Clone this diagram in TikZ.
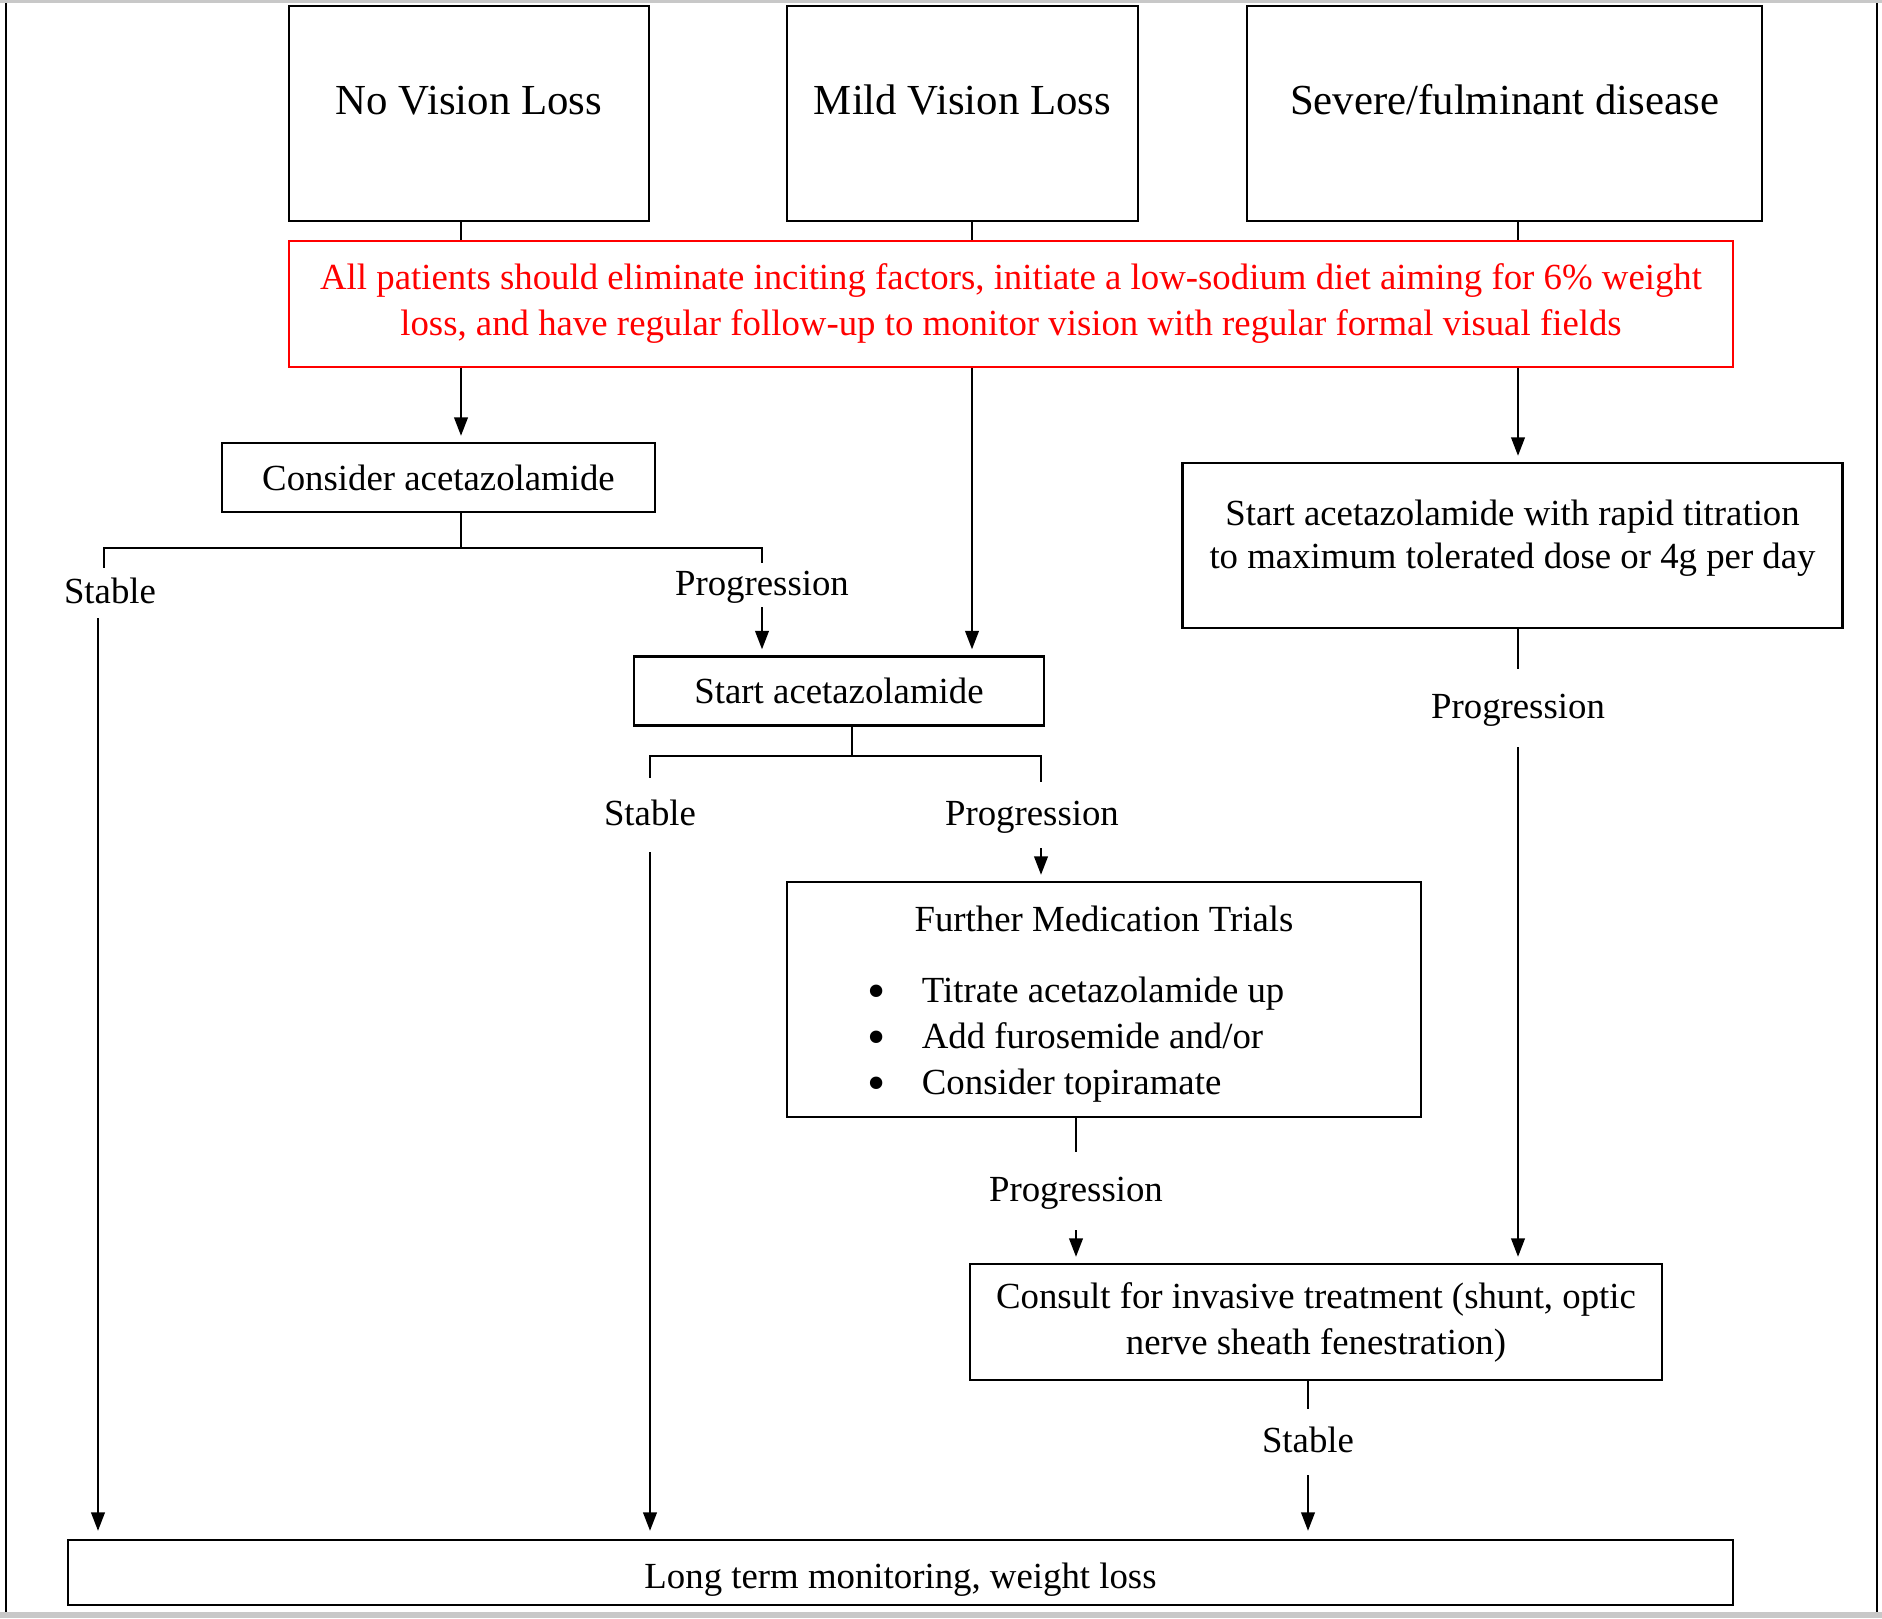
\documentclass[tikz,border=0pt]{standalone}
\usepackage{fontspec}
\setmainfont{Liberation Serif}
\usepackage{tikz}
\usetikzlibrary{arrows.meta, positioning}
\definecolor{alertRed}{RGB}{255, 0, 0}
\definecolor{frameGray}{RGB}{200, 200, 200}
\newcommand{\trialdot}{\raisebox{-1.4pt}{\fontsize{13}{11.5}\selectfont\textbullet}}

\begin{document}
\begin{tikzpicture}[x=0.25pt, y=-0.25pt,
  every node/.style={font=\fontsize{9.2}{11.5}\selectfont},
  casebox/.style={rectangle, draw, line width=0.6pt, inner sep=0pt,
                  minimum width=#1, text height=27pt, text depth=26.75pt,
                  font=\fontsize{10.7}{13}\selectfont},
  stepbox/.style={rectangle, draw, line width=0.6pt, align=center,
                  inner sep=2pt},
  redbox/.style={stepbox, draw=alertRed, text=alertRed},
  lbl/.style={inner xsep=2pt, inner ysep=1pt, text height=7.5pt,
              text depth=2.5pt},
  arr/.style={-{Triangle[length=4.6pt, width=3.4pt]}, shorten >=1.5pt},
  every path/.style={line width=0.5pt},
]
  % screenshot frame
  \useasboundingbox (0,0) rectangle (1882,1618);
  \draw[frameGray, line width=0.75pt] (0,1.5) -- (1882,1.5);
  \draw (6,3) -- (6,1612);
  \draw (1877,3) -- (1877,1612);
  \fill[frameGray] (0,1612) rectangle (1882,1618);

  % columns
  \coordinate (colA) at (461,0);
  \coordinate (colB) at (972,0);
  \coordinate (colC) at (1518,0);
  \coordinate (colD) at (852,0);
  \coordinate (colE) at (1076,0);
  \coordinate (colF) at (1308,0);

  % presenting cases
  \node[casebox=90pt] (novis) at (469,113.5) {No Vision Loss};
  \node[casebox=87.75pt] (mild) at (962.5,113.5) {Mild Vision Loss};
  \node[casebox=128.75pt] (severe) at (1504.5,113.5) {Severe/fulminant disease};

  \node[redbox, minimum width=361pt, minimum height=31.5pt] (red) at (1011,304)
    {All patients should eliminate inciting factors, initiate a low-sodium diet aiming for 6\% weight\\
     loss, and have regular follow-up to monitor vision with regular formal visual fields};

  % treatment steps
  \node[stepbox, minimum width=108.25pt, minimum height=17.25pt] (consider) at (438.5,477.5)
    {Consider acetazolamide};
  \node[stepbox, minimum width=102.5pt, minimum height=17.25pt] (start) at (839,691)
    {Start acetazolamide};
  \node[stepbox, minimum width=165pt, minimum height=41.25pt] (sevact) at (1512.5,545.5)
    {Start acetazolamide with rapid titration\\[-0.7pt]
     to maximum tolerated dose or 4g per day\rule[-5.5pt]{0pt}{0pt}};
  \node[stepbox, minimum width=158.5pt, minimum height=58.75pt] (further) at (1104,999.5)
    {\rule{0pt}{10.3pt}Further Medication Trials\\[6.25pt]
     \begin{tabular}[t]{@{}l@{\hspace{9pt}}l@{\hspace{14pt}}}
       \trialdot & Titrate acetazolamide up\\
       \trialdot & Add furosemide and/or\\
       \trialdot & Consider topiramate
     \end{tabular}};
  \node[stepbox, minimum width=173pt, minimum height=29pt] (consult) at (1316,1322)
    {Consult for invasive treatment (shunt, optic\\nerve sheath fenestration)};
  \node[stepbox, minimum width=416.25pt, inner sep=0pt, text height=12pt,
        text depth=4.25pt] (longterm) at (900.5,1572.5)
    {Long term monitoring, weight loss};

  % outcome labels
  \node[lbl] (stable1) at (110,593) {Stable};
  \node[lbl, inner ysep=0.3pt] (prog1) at (762,585) {Progression};
  \node[lbl, inner ysep=4pt] (stable2) at (650,815) {Stable};
  \node[lbl, inner ysep=3pt] (prog2) at (1032,815) {Progression};
  \node[lbl, inner ysep=4.5pt] (prog3) at (1518,708) {Progression};
  \node[lbl, inner ysep=4.5pt] (prog4) at (1076,1191) {Progression};
  \node[lbl, inner ysep=3pt] (stable3) at (1308,1442) {Stable};

  % into the common box
  \draw (novis.south -| colA) -- (red.north -| colA);
  \draw (mild.south -| colB) -- (red.north -| colB);
  \draw (severe.south -| colC) -- (red.north -| colC);

  \draw[arr] (red.south -| colA) -- (consider.north -| colA);
  \draw[arr] (red.south -| colB) -- (start.north -| colB);
  \draw[arr] (red.south -| colC) -- (sevact.north -| colC);

  % no vision loss
  \draw (consider.south -| colA) -- ++(0,35) coordinate (fork1)
    -| ([xshift=-1.5pt]stable1.north);
  \draw (fork1) -| (prog1.north);
  \draw[arr, shorten >=2pt] ([xshift=-3pt]stable1.south)
    -- ([xshift=-3pt]stable1.south |- longterm.north);
  \draw[arr] (prog1.south) -- (prog1.south |- start.north);

  % after starting acetazolamide
  \draw (start.south -| colD) -- ++(0,29) coordinate (fork2)
    -| ([xshift=2.25pt]prog2.north);
  \draw (fork2) -| (stable2.north);
  \draw[arr, shorten >=2pt] (stable2.south) -- (stable2.south |- longterm.north);
  \draw[arr] ([xshift=2.25pt]prog2.south) -- ([xshift=2.25pt]prog2.south |- further.north);

  \draw (further.south -| colE) -- (prog4.north);
  \draw[arr] (prog4.south) -- (prog4.south |- consult.north);

  % severe
  \draw (sevact.south -| colC) -- (prog3.north);
  \draw[arr] (prog3.south) -- (prog3.south |- consult.north);

  \draw (consult.south -| colF) -- (stable3.north);
  \draw[arr, shorten >=2pt] (stable3.south) -- (stable3.south |- longterm.north);
\end{tikzpicture}
\end{document}
